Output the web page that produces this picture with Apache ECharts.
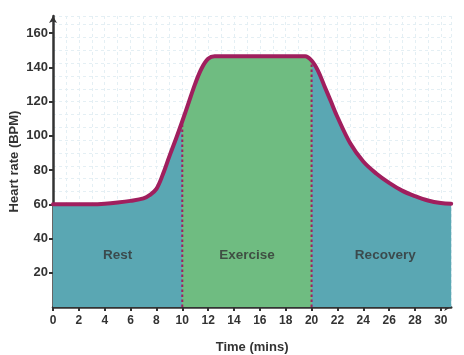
<!DOCTYPE html>
<html><head><meta charset="utf-8">
<script src="https://cdn.jsdelivr.net/npm/echarts@6/dist/echarts.min.js"></script>
<style>html,body{margin:0;padding:0;background:#fff}#c{width:464px;height:355px}</style>
</head><body><div id="c"></div>
<script>
// ---- data ----
const timeMins  = [0, 1, 2, 3, 4, 5, 6, 7, 7.5, 8, 8.5, 9, 9.5, 10, 10.5, 11, 11.5, 12, 12.5, 19.5, 20, 20.5, 21, 21.5, 22, 23, 24, 25, 26, 27, 28, 29, 30, 30.8];
const heartRate = [60, 60, 60, 60, 60.3, 61, 62, 63.5, 65.5, 69, 77.5, 88, 98, 108.5, 119.5, 130.5, 139.5, 145, 146.5, 146.5, 144, 138, 129, 120, 111, 95.5, 85, 78, 72.5, 68, 64.8, 62.2, 60.7, 60.3];
const xTickLabels = [0, 2, 4, 6, 8, 10, 12, 14, 16, 18, 20, 22, 24, 26, 28, 30];
const yTickLabels = [20, 40, 60, 80, 100, 120, 140, 160];
const phaseNames  = ['Rest', 'Exercise', 'Recovery'];
const phaseLabelX = [5, 15, 25.7];
const phaseLabelY = [30, 30, 30];
const phaseBounds = [10, 20];
const xAxisTitle = 'Time (mins)';
const yAxisTitle = 'Heart rate (BPM)';

// ---- styles ----
const TEAL = '#5aa7b3', GREEN = '#6fbc81', LINE = '#a01f5e', INK = '#333333';
const FONT = 'Liberation Sans, Arial, sans-serif';
const X_MIN = 0, X_MAX = 30.8, Y_MIN = 0, Y_MAX = 170;

const pts = timeMins.map((t, i) => [t, heartRate[i]]);
const x0 = timeMins[0], x1 = timeMins[timeMins.length - 1];
const f1 = (phaseBounds[0] - x0) / (x1 - x0), f2 = (phaseBounds[1] - x0) / (x1 - x0);
const areaGrad = new echarts.graphic.LinearGradient(0, 0, 1, 0, [
  {offset: 0, color: TEAL}, {offset: f1, color: TEAL},
  {offset: f1, color: GREEN}, {offset: f2, color: GREEN},
  {offset: f2, color: TEAL}, {offset: 1, color: TEAL}
]);

const boundarySeries = phaseBounds.map(b => {
  const i = timeMins.indexOf(b);
  return {
    type: 'line', data: [[b, Y_MIN], [b, heartRate[i]]], symbol: 'none', silent: true, z: 3,
    lineStyle: {color: LINE, width: 2, type: [2.5, 2.5]}
  };
});

const labelSeries = {
  type: 'scatter', symbolSize: 0, silent: true, z: 6,
  data: phaseNames.map((n, i) => ({name: n, value: [phaseLabelX[i], phaseLabelY[i]]})),
  label: {show: true, position: 'inside', formatter: p => p.name,
    fontFamily: FONT, fontWeight: 'bold', fontSize: 13.5, color: INK}
};

const SMOOTH = 0.35;
const chart = echarts.init(document.getElementById('c'), null, {renderer: 'canvas'});
chart.setOption({
  animation: false,
  backgroundColor: '#fff',
  grid: {left: 53, right: 12.8, top: 16, bottom: 48, containLabel: false, outerBoundsMode: 'none'},
  xAxis: [{
    type: 'value', min: X_MIN, max: X_MAX,
    name: xAxisTitle, nameLocation: 'middle', nameGap: 34, nameMoveOverlap: false,
    nameTextStyle: {fontFamily: FONT, fontWeight: 'bold', fontSize: 13, color: INK},
    axisLine: {show: true, lineStyle: {color: INK, width: 2.5}, symbol: ['none', 'arrow'], symbolSize: [6, 7]},
    axisTick: {show: true, length: 4, lineStyle: {color: INK, width: 2}, customValues: xTickLabels},
    axisLabel: {customValues: xTickLabels, margin: 8, fontFamily: FONT, fontWeight: 'bold', fontSize: 12, color: INK},
    splitLine: {show: false}
  }, {
    type: 'value', min: X_MIN, max: X_MAX, interval: 1, position: 'top', show: true,
    axisLine: {show: false}, axisTick: {show: false}, axisLabel: {show: false},
    splitLine: {show: true, lineStyle: {color: '#e4eff4', width: 1, type: [3, 3]}}
  }],
  yAxis: [{
    type: 'value', min: Y_MIN, max: Y_MAX,
    name: yAxisTitle, nameLocation: 'middle', nameGap: 32, nameRotate: 90, nameMoveOverlap: false,
    nameTextStyle: {fontFamily: FONT, fontWeight: 'bold', fontSize: 13, color: INK},
    axisLine: {show: true, lineStyle: {color: INK, width: 2.5}, symbol: ['none', 'arrow'], symbolSize: [6, 7]},
    axisTick: {show: true, length: 4, lineStyle: {color: INK, width: 2}, customValues: yTickLabels},
    axisLabel: {customValues: yTickLabels, margin: 5, fontFamily: FONT, fontWeight: 'bold', fontSize: 13, color: INK},
    splitLine: {show: false}
  }, {
    type: 'value', min: Y_MIN, max: Y_MAX, interval: 7.5, position: 'right', show: true,
    axisLine: {show: false}, axisTick: {show: false}, axisLabel: {show: false},
    splitLine: {show: true, lineStyle: {color: '#e4eff4', width: 1, type: [3, 3]}}
  }],
  series: [
    {type: 'line', data: pts, smooth: SMOOTH, symbol: 'none', z: 2, silent: true,
     lineStyle: {width: 0}, areaStyle: {color: areaGrad, opacity: 1}},
    ...boundarySeries,
    {type: 'line', data: pts, smooth: SMOOTH, symbol: 'none', z: 5, silent: true,
     lineStyle: {color: LINE, width: 4, cap: 'round', join: 'round'}},
    labelSeries
  ]
});
</script></body></html>
